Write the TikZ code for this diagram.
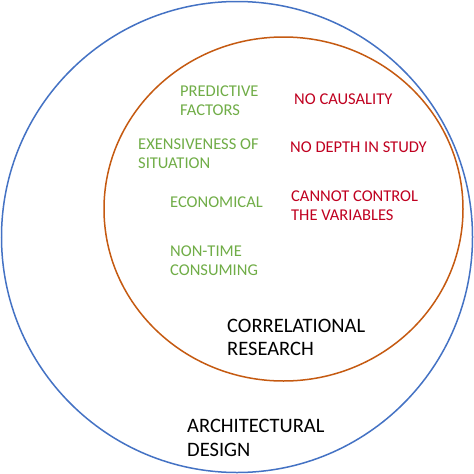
\documentclass[tikz,border=0pt]{standalone}
\usepackage{fontspec}
\setmainfont{Carlito}
\definecolor{outerblue}{HTML}{4472C4}
\definecolor{innerorange}{HTML}{C55A11}
\definecolor{pro}{HTML}{70AD47}
\definecolor{con}{HTML}{C00020}
\begin{document}
\begin{tikzpicture}[x=1pt,y=-1pt,
  protext/.style={text=pro,font=\fontsize{16.5}{19.5}\selectfont,align=left,anchor=west,inner sep=0pt},
  context/.style={text=con,font=\fontsize{16.5}{19.5}\selectfont,align=left,anchor=west,inner sep=0pt},
  maintext/.style={text=black,font=\fontsize{20.5}{23.5}\selectfont,align=left,anchor=west,inner sep=0pt}]
\useasboundingbox (0,0) rectangle (474,474);
\fill[white] (0,0) rectangle (474,474);
\draw[outerblue,line width=1.5pt] (237,237) circle (235.5);
\draw[innerorange,line width=1.5pt] (283.5,209) ellipse (179.5 and 172);
\node[protext] (p1) at (180,100.5) {PREDICTIVE\\FACTORS};
\node[protext] (p2) at (138,153.5) {EXENSIVENESS OF\\SITUATION};
\node[protext] (p3) at (170,202) {ECONOMICAL};
\node[protext] (p4) at (170,260.5) {NON-TIME\\CONSUMING};
\node[context] (c1) at (294,99) {NO CAUSALITY};
\node[context] (c2) at (290,147) {NO DEPTH IN STUDY};
\node[context] (c3) at (291,205.5) {CANNOT CONTROL\\THE VARIABLES};
\node[maintext] (m1) at (227,337.5) {CORRELATIONAL\\RESEARCH};
\node[maintext] (m2) at (187,438) {ARCHITECTURAL\\DESIGN};
\end{tikzpicture}
\end{document}
